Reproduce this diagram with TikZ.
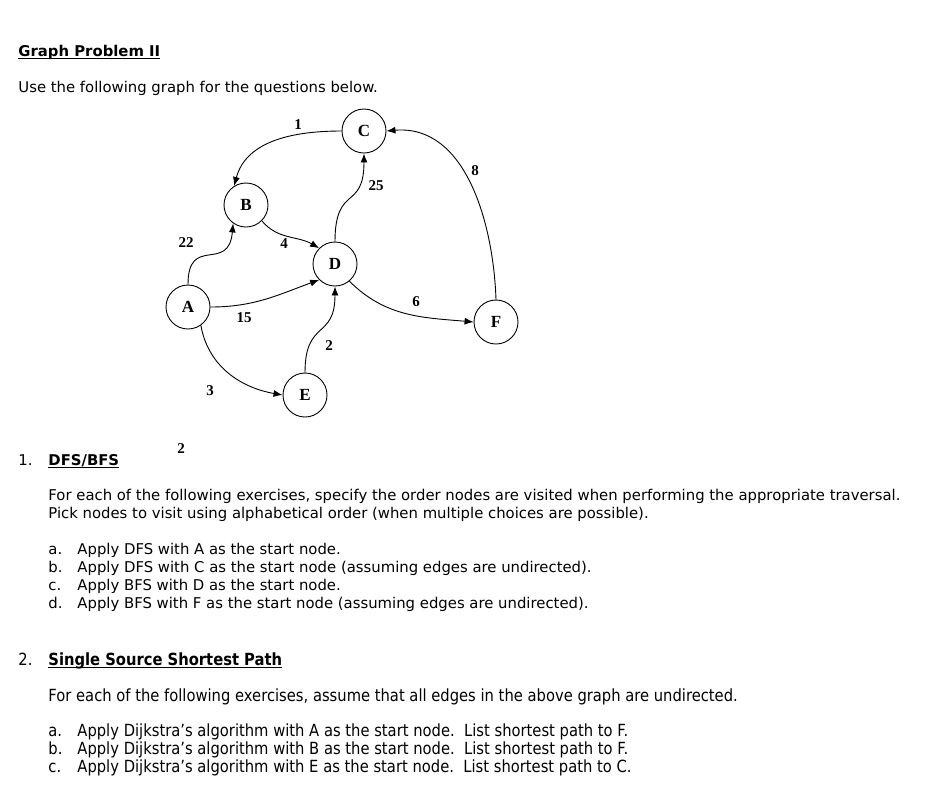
\documentclass[tikz,border=0pt]{standalone}
\usepackage{fontspec}
\setmainfont{DejaVu Sans}
\newfontfamily\tmsfont{Liberation Serif}
\newfontfamily\tahfont[FakeStretch=0.88]{DejaVu Sans}
\usetikzlibrary{arrows.meta}
\newcommand{\undl}[1]{\setbox0\hbox{#1}\rlap{\rule[-2.6pt]{\wd0}{1.1pt}}\box0}
\newcommand{\itm}[1]{\makebox[29pt][l]{#1}}

\begin{document}
\begin{tikzpicture}[x=1pt, y=1pt, >={Latex[length=9pt,width=7pt]}, line width=0.9pt,
    vertex/.style={circle, draw, minimum size=44pt, inner sep=0pt, font=\tmsfont\bfseries\fontsize{17}{17}\selectfont},
    wt/.style={inner sep=0pt, font=\tmsfont\bfseries\fontsize{15}{15}\selectfont},
    txt/.style={anchor=base west, inner sep=0pt, font=\fontsize{14.85}{18}\selectfont},
    txtb/.style={anchor=base west, inner sep=0pt, font=\tahfont\fontsize{16.75}{18}\selectfont}]
    \path[use as bounding box, fill=white] (0,0) rectangle (949,-804);

    \node[txt] (title) at (18,-56) {\undl{\bfseries Graph Problem II}};
    \node[txt] (intro) at (18,-92) {Use the following graph for the questions below.};

    % the graph
    \node[vertex] (C) at (364,-131) {C};
    \node[vertex] (B) at (246,-205) {B};
    \node[vertex] (D) at (335,-264) {D};
    \node[vertex] (A) at (188,-307) {A};
    \node[vertex] (F) at (496,-322) {F};
    \node[vertex] (E) at (305,-395) {E};

    \draw[->] (C.west) to[out=180, in=75] (B.122);
    \draw[->] (A.north) to[out=90, in=-95, looseness=1.7] (B.235);
    \draw[->] (B.-45) to[out=-50, in=150] (D.135);
    \draw[->] (D.north) to[out=90, in=-90, looseness=1.6] (C.south);
    \draw[->] (F.north) to[out=92, in=5] (C.east);
    \draw[->] (D.-50) to[out=-45, in=175] (F.west);
    \draw[->] (A.east) to[out=0, in=200] (D.225);
    \draw[->] (E.north) to[out=90, in=-90, looseness=1.5] (D.south);
    \draw[->] (A.-55) to[out=-80, in=170] (E.west);

    \node[wt] (wCB) at (298,-125) {1};
    \node[wt] (wAB) at (186,-243) {22};
    \node[wt] (wBD) at (284,-244) {4};
    \node[wt] (wDC) at (376,-186) {25};
    \node[wt] (wFC) at (475,-171) {8};
    \node[wt] (wDF) at (416,-302) {6};
    \node[wt] (wAD) at (244,-318) {15};
    \node[wt] (wED) at (329,-346) {2};
    \node[wt] (wAE) at (210,-391) {3};
    \node[wt] (wX) at (181,-449) {2};

    % part 1
    \node[txt] (s1num) at (18,-465) {1.};
    \node[txt] (s1head) at (48,-465) {\undl{\bfseries DFS/BFS}};
    \node[txt] (s1p1) at (48,-500) {For each of the following exercises, specify the order nodes are visited when performing the appropriate traversal.};
    \node[txt] (s1p2) at (48,-518) {Pick nodes to visit using alphabetical order (when multiple choices are possible).};
    \node[txt] (s1a) at (48,-554) {\itm{a.}Apply DFS with A as the start node.};
    \node[txt] (s1b) at (48,-572) {\itm{b.}Apply DFS with C as the start node (assuming edges are undirected).};
    \node[txt] (s1c) at (48,-590) {\itm{c.}Apply BFS with D as the start node.};
    \node[txt] (s1d) at (48,-608) {\itm{d.}Apply BFS with F as the start node (assuming edges are undirected).};

    % part 2
    \node[txtb] (s2num) at (18,-665) {2.};
    \node[txtb] (s2head) at (48,-665) {\undl{\bfseries Single Source Shortest Path}};
    \node[txtb] (s2p) at (48,-701) {For each of the following exercises, assume that all edges in the above graph are undirected.};
    \node[txtb] (s2a) at (48,-736) {\itm{a.}Apply Dijkstra’s algorithm with A as the start node.\ \ List shortest path to F.};
    \node[txtb] (s2b) at (48,-754) {\itm{b.}Apply Dijkstra’s algorithm with B as the start node.\ \ List shortest path to F.};
    \node[txtb] (s2c) at (48,-772) {\itm{c.}Apply Dijkstra’s algorithm with E as the start node.\ \ List shortest path to C.};
\end{tikzpicture}
\end{document}
